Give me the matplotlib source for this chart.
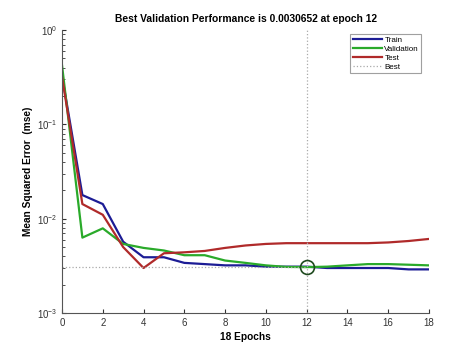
import matplotlib
matplotlib.use('Agg')
import matplotlib.pyplot as plt

plt.rcParams['font.family'] = ['Liberation Sans', 'DejaVu Sans']

# values
epochs = list(range(19))
train = [0.33, 0.0178, 0.0143, 0.0057, 0.0039, 0.0039, 0.0034, 0.0033, 0.0032, 0.0032,
         0.0031, 0.0031, 0.0031, 0.0030, 0.0030, 0.0030, 0.0030, 0.0029, 0.0029]
valid = [0.425, 0.0063, 0.0079, 0.0054, 0.0049, 0.0046, 0.0041, 0.0041, 0.0036, 0.0034,
         0.0032, 0.00308, 0.0030652, 0.0031, 0.0032, 0.0033, 0.0033, 0.00325, 0.0032]
test = [0.32, 0.0143, 0.011, 0.0050, 0.0030, 0.0043, 0.0044, 0.00455, 0.0049, 0.0052,
        0.0054, 0.0055, 0.0055, 0.0055, 0.0055, 0.0055, 0.0056, 0.0058, 0.0061]
best_epoch = 12
best_perf = 0.0030652

fig = plt.figure(figsize=(4.74, 3.55), dpi=100)
ax = fig.add_axes([0.1308, 0.1183, 0.7743, 0.797])

ax.plot(epochs, train, color='#1c1c95', lw=1.6, label='Train')
ax.plot(epochs, valid, color='#2aaa2a', lw=1.6, label='Validation')
ax.plot(epochs, test, color='#b02a2a', lw=1.6, label='Test')
ax.axvline(best_epoch, color='#aaaaaa', ls=':', lw=0.9, label='Best')
ax.plot([0, best_epoch], [best_perf, best_perf], color='#aaaaaa', ls=':', lw=0.9)
ax.plot(best_epoch, best_perf, 'o', ms=10, mfc='none', mec='#1f4a1f', mew=1.2)

ax.set_yscale('log')
ax.set_ylim(1e-3, 1e0)
ax.set_xlim(0, 18)
ax.set_xticks(range(0, 19, 2))
ax.tick_params(which='both', direction='in', labelsize=7, colors='#333333')
ax.tick_params(which='major', length=3)
ax.tick_params(which='minor', length=1.8)
ax.spines['top'].set_visible(False)
ax.spines['right'].set_visible(False)
ax.spines['left'].set_color('#555555')
ax.spines['bottom'].set_color('#555555')

ax.set_title('Best Validation Performance is 0.0030652 at epoch 12',
             fontsize=7.4, fontweight='bold', pad=6)
ax.set_xlabel('18 Epochs', fontsize=7.3, fontweight='bold', labelpad=3)
ax.set_ylabel('Mean Squared Error  (mse)', fontsize=7.3, fontweight='bold', labelpad=3)

leg = ax.legend(loc='upper right', fontsize=5.8, frameon=True, fancybox=False,
                borderpad=0.3, labelspacing=0.15, handlelength=3.6, handletextpad=0.3,
                bbox_to_anchor=(0.99, 1.0))
leg.get_frame().set_edgecolor('#888888')
leg.get_frame().set_linewidth(0.8)

fig.savefig('out.png', dpi=100)
